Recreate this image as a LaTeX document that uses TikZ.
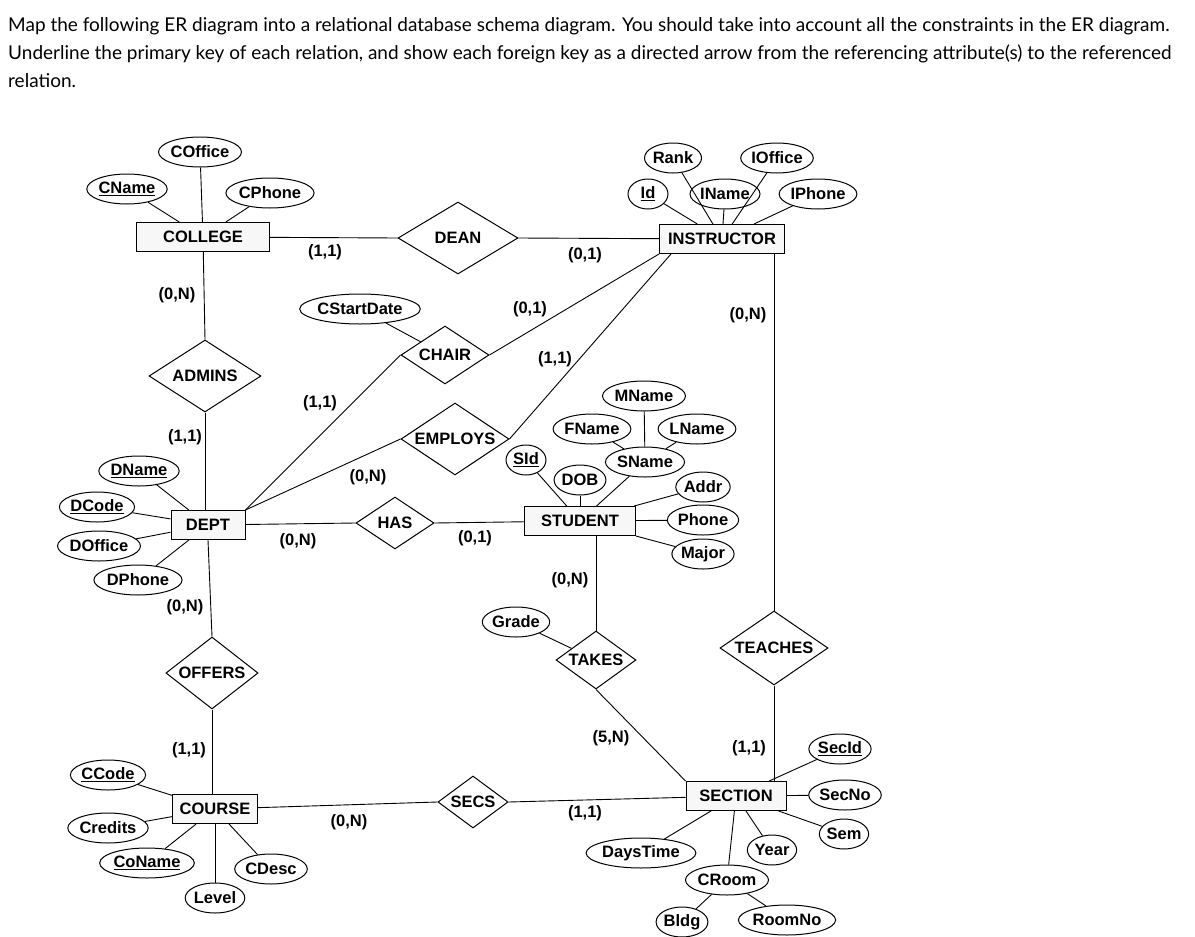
\documentclass[tikz,border=0pt]{standalone}
\usepackage{fontspec}
\setmainfont{Liberation Sans}
\newfontfamily\lato{Lato}
\usetikzlibrary{shapes.geometric}
\begin{document}
\begin{tikzpicture}[x=1pt,y=-1pt,
  every node/.style={font=\bfseries\fontsize{16.5}{18}\selectfont},
  ent/.style={draw,rectangle,fill=gray!6,minimum height=29pt,inner xsep=5pt,line width=1pt},
  rel/.style={draw,diamond,aspect=1.7,inner sep=1pt,fill=white,line width=1pt},
  att/.style={draw,ellipse,inner xsep=0pt,inner ysep=0pt,minimum height=30pt,minimum width=40pt,fill=white,line width=1pt},
  lab/.style={inner sep=0pt},
  ln/.style={line width=0.9pt}]
\useasboundingbox (0,0) rectangle (1195,937);
\fill[white] (0,0) rectangle (1195,937);
% header
\node[lab,anchor=west,font=\lato\fontsize{19}{22}\selectfont] (h1) at (8,26) {Map the following ER diagram into a relational database schema diagram. You should take into account all the constraints in the ER diagram.};
\node[lab,anchor=west,font=\lato\fontsize{19}{22}\selectfont] (h2) at (8,54) {Underline the primary key of each relation, and show each foreign key as a directed arrow from the referencing attribute(s) to the referenced};
\node[lab,anchor=west,font=\lato\fontsize{19}{22}\selectfont] (h3) at (8,81) {relation.};
% entities
\node[ent,minimum width=133pt] (college) at (203,237) {COLLEGE};
\node[ent,minimum width=125pt] (instr) at (722,239) {INSTRUCTOR};
\node[ent,minimum width=74pt] (dept) at (208,525) {DEPT};
\node[ent,minimum width=111pt] (student) at (580,521) {STUDENT};
\node[ent,minimum width=85pt] (course) at (215,809) {COURSE};
\node[ent,minimum width=100pt] (section) at (736,796) {SECTION};
% relationships
\node[rel,minimum width=120pt,minimum height=72pt] (dean) at (458,238) {DEAN};
\node[rel,minimum width=88pt,minimum height=58pt] (chair) at (445,355) {CHAIR};
\node[rel,minimum width=112pt,minimum height=72pt] (admins) at (205,376) {ADMINS};
\node[rel,minimum width=108pt,minimum height=72pt] (employs) at (455,439) {EMPLOYS};
\node[rel,minimum width=78pt,minimum height=52pt] (has) at (395,523) {HAS};
\node[rel,minimum width=78pt,minimum height=72pt] (offers) at (212,673) {OFFERS};
\node[rel,minimum width=62pt,minimum height=58pt] (takes) at (596,660) {TAKES};
\node[rel,minimum width=108pt,minimum height=74pt] (teaches) at (774,648) {TEACHES};
\node[rel,minimum width=54pt,minimum height=52pt] (secs) at (473,802) {SECS};
% attributes
\node[att] (coffice) at (200,152) {COffice};
\node[att] (cname) at (127,189) {\underline{CName}};
\node[att] (cphone) at (270,193) {CPhone};
\node[att] (id) at (648,194) {\underline{Id}};
\node[att] (rank) at (673,158) {Rank};
\node[att] (iname) at (725,194) {IName};
\node[att] (ioffice) at (777,158) {IOffice};
\node[att] (iphone) at (818,194) {IPhone};
\node[att] (csd) at (360,309) {CStartDate};
\node[att] (mname) at (644,396) {MName};
\node[att] (fname) at (592,429) {FName};
\node[att] (lname) at (697,429) {LName};
\node[att] (sname) at (645,462) {SName};
\node[att] (sid) at (526,460) {\underline{SId}};
\node[att] (dob) at (580,480) {DOB};
\node[att] (addr) at (703,487) {Addr};
\node[att] (phone) at (703,520) {Phone};
\node[att] (major) at (703,554) {Major};
\node[att] (dname) at (139,471) {\underline{DName}};
\node[att] (dcode) at (97,507) {\underline{DCode}};
\node[att] (doffice) at (99,546) {DOffice};
\node[att] (dphone) at (138,580) {DPhone};
\node[att] (grade) at (516,622) {Grade};
\node[att] (ccode) at (108,775) {\underline{CCode}};
\node[att] (credits) at (108,828) {Credits};
\node[att] (coname) at (147,863) {\underline{CoName}};
\node[att] (level) at (215,898) {Level};
\node[att] (cdesc) at (271,869) {CDesc};
\node[att] (secid) at (840,749) {\underline{SecId}};
\node[att] (secno) at (845,795) {SecNo};
\node[att] (sem) at (844,834) {Sem};
\node[att] (year) at (772,850) {Year};
\node[att] (days) at (641,853) {DaysTime};
\node[att] (croom) at (727,880) {CRoom};
\node[att] (bldg) at (682,922) {Bldg};
\node[att] (roomno) at (787,920) {RoomNo};
% relationship lines
\begin{scope}[ln]
\draw (college) -- (dean.west);
\draw (dean.east) -- (instr);
\draw (college) -- (admins.north);
\draw (admins.south) -- (dept.north -| admins.south);
\draw (chair.west) -- (dept.north east);
\draw (chair.east) -- (instr.south west);
\draw (employs.west) -- (dept.north east);
\draw (employs.east) -- ([xshift=12pt]instr.south west);
\draw (dept) -- (has.west);
\draw (has.east) -- (student);
\draw (dept.south) -- (offers.north);
\draw (offers.south) -- (course.north -| offers.south);
\draw (student.south -| takes.north) -- (takes.north);
\draw (takes.south) -- (section.north west);
\draw (instr.south -| teaches.north) -- (teaches.north);
\draw (teaches.south) -- (section.north -| teaches.south);
\draw (course) -- (secs.west);
\draw (secs.east) -- (section);
% attribute lines
\foreach \a in {coffice,cname,cphone} \draw (\a) -- (college);
\foreach \a in {id,rank,iname,ioffice,iphone} \draw (\a) -- (instr);
\draw (csd) -- (chair);
\foreach \a in {fname,mname,lname} \draw (\a) -- (sname);
\foreach \a in {sname,sid,dob,addr,phone,major} \draw (\a) -- (student);
\foreach \a in {dname,dcode,doffice,dphone} \draw (\a) -- (dept);
\draw (grade) -- (takes);
\foreach \a in {ccode,credits,coname,level,cdesc} \draw (\a) -- (course);
\foreach \a in {secid,secno,sem,year,days,croom} \draw (\a) -- (section);
\foreach \a in {bldg,roomno} \draw (\a) -- (croom);
\end{scope}
% cardinalities
\node[lab] (c1) at (325,252) {(1,1)};
\node[lab] (c2) at (585,255) {(0,1)};
\node[lab] (c3) at (177,295) {(0,N)};
\node[lab] (c4) at (530,309) {(0,1)};
\node[lab] (c5) at (555,359) {(1,1)};
\node[lab] (c6) at (748,315) {(0,N)};
\node[lab] (c7) at (320,403) {(1,1)};
\node[lab] (c8) at (185,437) {(1,1)};
\node[lab] (c9) at (368,477) {(0,N)};
\node[lab] (c10) at (298,541) {(0,N)};
\node[lab] (c11) at (475,538) {(0,1)};
\node[lab] (c12) at (570,580) {(0,N)};
\node[lab] (c13) at (185,607) {(0,N)};
\node[lab] (c14) at (611,738) {(5,N)};
\node[lab] (c15) at (189,750) {(1,1)};
\node[lab] (c16) at (749,748) {(1,1)};
\node[lab] (c17) at (349,822) {(0,N)};
\node[lab] (c18) at (585,813) {(1,1)};
\end{tikzpicture}
\end{document}
